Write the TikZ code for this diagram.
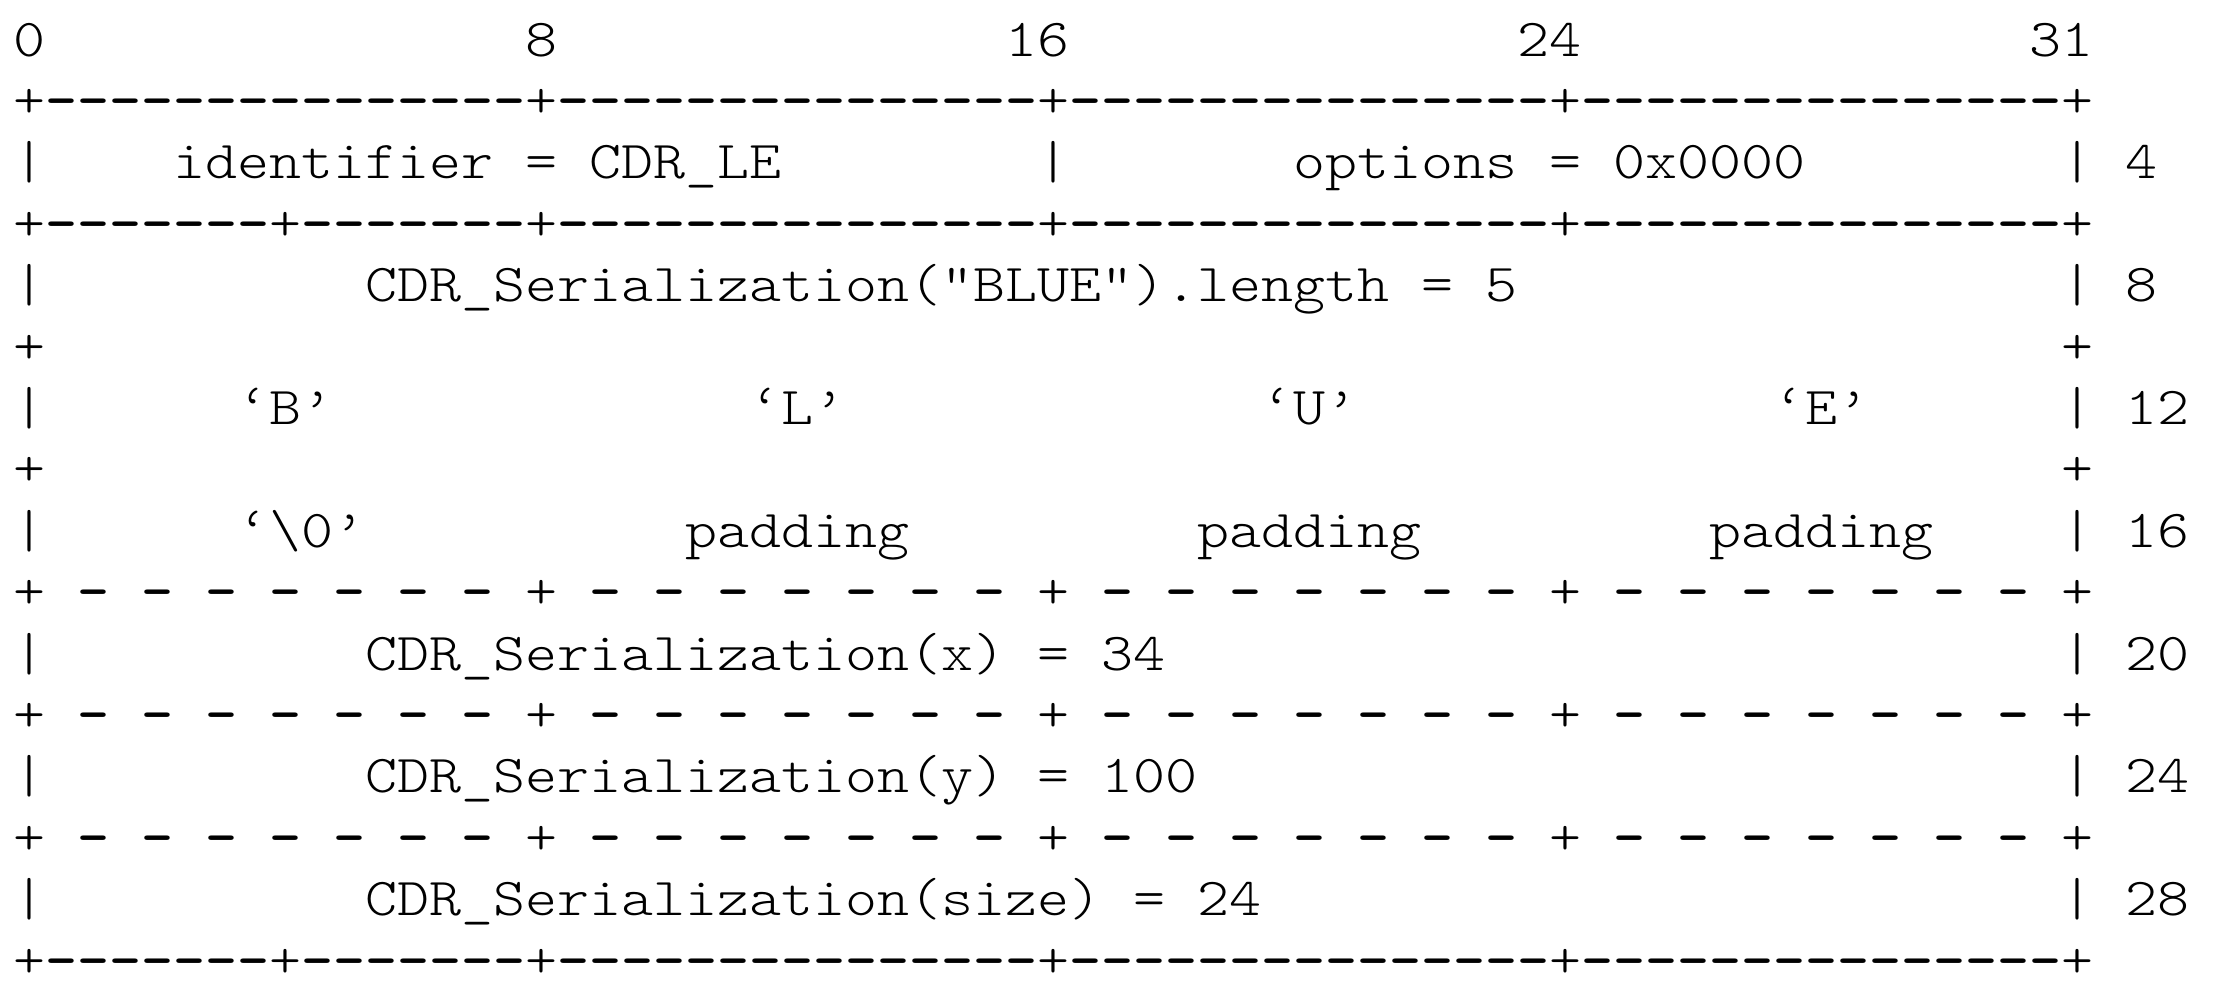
\documentclass[tikz,border=0pt]{standalone}
\usepackage{fontspec}
\newfontfamily\asciifont{lmmonolt10-regular.otf}[FakeStretch=1.143,
    BoldFont=lmmonolt10-bold.otf, Ligatures=TeXOff]
\begin{document}
\begin{tikzpicture}
        [x=8.0pt, y=-15.35pt,
         ch/.style={anchor=base west, inner sep=0pt, outer sep=0pt,
                    font=\asciifont\fontsize{13.33pt}{15.35pt}\selectfont},
         dsh/.style={ch, font=\asciifont\bfseries\fontsize{13.33pt}{15.35pt}\selectfont}]
        \useasboundingbox (0pt,0pt) rectangle (559pt,-247.5pt);
        \begin{scope}[shift={(3.4pt,-14pt)}]
        % bit numbers
        \node [ch] (bit0) at (0,0) {0};
        \node [ch] (bit8) at (16,0) {8};
        \node [ch] (bit16) at (31,0) {16};
        \node [ch] (bit24) at (47,0) {24};
        \node [ch] (bit31) at (63,0) {31};
        % solid borders
        \foreach \c in {0,16,32,48,64}
            \node [ch] (top-\c) at (\c,1) {+};
        \foreach \c in {0,16,32,48}
            \node [dsh] (topd-\c) at (\c+1,1) {---------------};
        \foreach \r in {3,15} {
            \foreach \c in {0,8,16,32,48,64}
                \node [ch] (brd-\r-\c) at (\c,\r) {+};
            \foreach \c in {0,8}
                \node [dsh] (brdh-\r-\c) at (\c+1,\r) {-------};
            \foreach \c in {16,32,48}
                \node [dsh] (brdd-\r-\c) at (\c+1,\r) {---------------};
        }
        % open corners
        \foreach \r in {5,7} {
            \node [ch] (lp-\r) at (0,\r) {+};
            \node [ch] (rp-\r) at (64,\r) {+};
        }
        % dashed separators
        \foreach \r in {9,11,13} {
            \foreach \c in {0,16,32,48,64}
                \node [ch] (sep-\r-\c) at (\c,\r) {+};
            \foreach \c in {0,16,32,48}
                \node [dsh] (sepd-\r-\c) at (\c+2,\r) {- - - - - - -};
        }
        % side bars and word offsets
        \foreach \r in {2,4,...,14} {
            \pgfmathtruncatemacro{\off}{2*\r}
            \node [ch] (lbar-\r) at (0,\r) {|};
            \node [ch] (rbar-\r) at (64,\r) {|};
            \node [ch] (off-\r) at (66,\r) {\off};
        }
        \node [ch] (mbar) at (32,2) {|};
        % fields
        \node [ch] (ident) at (5,2) {identifier = CDR\_LE};
        \node [ch] (opts) at (40,2) {options = 0x0000};
        \node [ch] (strlen) at (11,4) {CDR\_Serialization(“BLUE”).length = 5};
        \node [ch] (chB) at (7,6) {‘B’};
        \node [ch] (chL) at (23,6) {‘L’};
        \node [ch] (chU) at (39,6) {‘U’};
        \node [ch] (chE) at (55,6) {‘E’};
        \node [ch] (chnul) at (7,8) {‘\textbackslash0’};
        \node [ch] (pad1) at (21,8) {padding};
        \node [ch] (pad2) at (37,8) {padding};
        \node [ch] (pad3) at (53,8) {padding};
        \node [ch] (serx) at (11,10) {CDR\_Serialization(x) = 34};
        \node [ch] (sery) at (11,12) {CDR\_Serialization(y) = 100};
        \node [ch] (sersize) at (11,14) {CDR\_Serialization(size) = 24};
        \end{scope}
    \end{tikzpicture}
\end{document}
